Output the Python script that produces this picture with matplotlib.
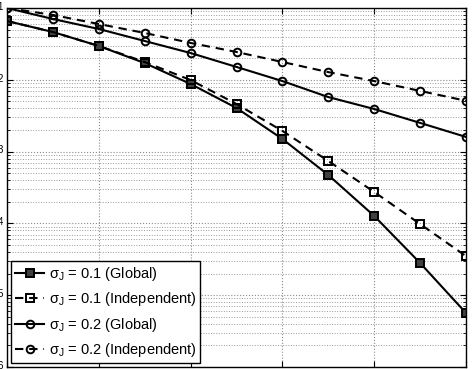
import matplotlib
matplotlib.use("Agg")
import matplotlib.pyplot as plt
from matplotlib.ticker import LogLocator, MultipleLocator

plt.rcParams["font.family"] = ["Liberation Sans", "DejaVu Sans"]
plt.rcParams["mathtext.fontset"] = "custom"
plt.rcParams["mathtext.rm"] = "Liberation Sans"
plt.rcParams["mathtext.it"] = "Liberation Sans"

# data (x = step index, y = error rate)
x = [0, 1, 2, 3, 4, 5, 6, 7, 8, 9, 10]
sq_global = [0.0659, 0.0463, 0.0296, 0.0171, 0.00875, 0.00405, 0.00150,
             0.000472, 0.000127, 2.81e-5, 5.65e-6]
sq_indep = [0.0659, 0.0463, 0.0296, 0.0177, 0.00993, 0.0046, 0.00194,
            0.00074, 0.000274, 9.8e-5, 3.5e-5]
ci_global = [0.1, 0.0703, 0.0510, 0.0347, 0.0236, 0.0151, 0.0096,
             0.00575, 0.00392, 0.00251, 0.0016]
ci_indep = [0.1, 0.080, 0.0598, 0.0449, 0.0326, 0.0244, 0.0177,
            0.0128, 0.0096, 0.0070, 0.0051]

labels = [r"$\sigma_J$ = 0.1 (Global)", r"$\sigma_J$ = 0.1 (Independent)",
          r"$\sigma_J$ = 0.2 (Global)", r"$\sigma_J$ = 0.2 (Independent)"]

fig = plt.figure(figsize=(4.74, 3.69), dpi=100)
ax = fig.add_axes([7 / 474, 2 / 369, 459 / 474, 359 / 369])

dash = (0, (4, 2.8))
kw = dict(color="black", lw=1.5, ms=5.5, mew=1.4)
ax.plot(x, sq_global, "-", marker="s", mfc="0.25", label=labels[0], **kw)
ax.plot(x, sq_indep, linestyle=dash, marker="s", mfc="none", label=labels[1], **kw)
ax.plot(x, ci_global, "-", marker="o", mfc="none", label=labels[2], **kw)
ax.plot(x, ci_indep, linestyle=dash, marker="o", mfc="none", label=labels[3], **kw)

ax.set_yscale("log")
ax.set_xlim(0, 10)
ax.set_ylim(1e-6, 1e-1)
ax.xaxis.set_major_locator(MultipleLocator(2))
ax.yaxis.set_major_locator(LogLocator(base=10, numticks=10))
ax.yaxis.set_minor_locator(LogLocator(base=10, subs=range(2, 10), numticks=20))
ax.set_xticklabels([])
ax.tick_params(which="both", direction="in", top=True, right=True, labelsize=10)
ax.tick_params(which="major", length=4, width=0.8, pad=2)
ax.tick_params(which="minor", length=2, width=0.6)
ax.grid(True, which="major", linestyle=":", color="0.55", lw=0.8)
ax.grid(True, which="minor", axis="y", linestyle=":", color="0.6", lw=0.7)
for s in ax.spines.values():
    s.set_linewidth(1.0)

ax.legend(loc="lower left", fontsize=10.5, fancybox=False, edgecolor="black",
          framealpha=1, handlelength=2.0, borderaxespad=0.3,
          labelspacing=0.5, handletextpad=0.3, borderpad=0.25)

fig.savefig("out.png", dpi=100)
